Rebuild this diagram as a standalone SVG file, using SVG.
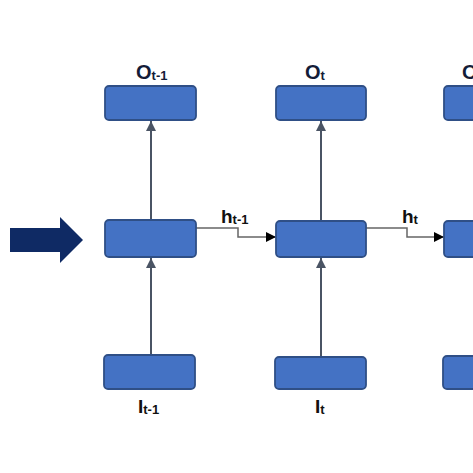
<svg xmlns="http://www.w3.org/2000/svg" width="473" height="473" viewBox="0 0 473 473">
<defs>
<style>
.box{fill:#4472c4;stroke:#2f4f86;stroke-width:1.8}
.v{stroke:#4a5464;stroke-width:2;fill:none}
.h{stroke:#666;stroke-width:1.5;fill:none}
.lbl{font-family:"Liberation Sans",Arial,sans-serif;font-weight:bold;font-size:20px;fill:#141c38}
.hl{font-family:"Liberation Sans",Arial,sans-serif;font-weight:bold;font-size:19px;fill:#111}
.sub{font-size:13px}
</style>
<marker id="up" viewBox="0 0 10 10" refX="10" refY="5" markerWidth="10" markerHeight="10" markerUnits="userSpaceOnUse" orient="auto"><path d="M0,0 L10,5 L0,10 z" fill="#4a5464"/></marker>
<marker id="blk" viewBox="0 0 10 10" refX="10" refY="5" markerWidth="10" markerHeight="10" markerUnits="userSpaceOnUse" orient="auto"><path d="M0,0 L10,5 L0,10 z" fill="#000"/></marker>
</defs>
<rect width="473" height="473" fill="#fff"/>
<polygon id="input-arrow" points="10,228 60,228 60,217 83,240 60,263 60,252 10,252" fill="#0f2a64"/>
<g id="connectors">
<line class="v" x1="151" y1="220" x2="151" y2="121" marker-end="url(#up)"/>
<line class="v" x1="151" y1="355" x2="151" y2="258" marker-end="url(#up)"/>
<line class="v" x1="321" y1="221" x2="321" y2="121" marker-end="url(#up)"/>
<line class="v" x1="321" y1="357" x2="321" y2="258" marker-end="url(#up)"/>
<path class="h" d="M196,228 H238 V237 H276" marker-end="url(#blk)"/>
<path class="h" d="M366,228 H407 V237 H444" marker-end="url(#blk)"/>
</g>
<g id="o1"><rect class="box" x="105" y="86" width="91" height="34" rx="4"/></g>
<g id="o2"><rect class="box" x="276" y="86" width="90" height="34" rx="4"/></g>
<g id="o3"><rect class="box" x="444" y="86" width="60" height="34" rx="4"/></g>
<g id="h1"><rect class="box" x="105" y="220" width="91" height="37" rx="4"/></g>
<g id="h2"><rect class="box" x="276" y="221" width="90" height="36" rx="4"/></g>
<g id="h3"><rect class="box" x="444" y="221" width="60" height="36" rx="4"/></g>
<g id="i1"><rect class="box" x="104" y="355" width="91" height="34" rx="4"/></g>
<g id="i2"><rect class="box" x="275" y="357" width="91" height="32" rx="4"/></g>
<g id="i3"><rect class="box" x="443" y="356" width="60" height="33" rx="4"/></g>
<g id="labels">
<text class="lbl" x="136" y="79">O<tspan class="sub" dy="1">t-1</tspan></text>
<text class="lbl" x="305" y="79">O<tspan class="sub" dy="1">t</tspan></text>
<text class="lbl" x="462" y="79">O</text>
<text class="hl" x="221" y="223">h<tspan class="sub" dy="1">t-1</tspan></text>
<text class="hl" x="402" y="223">h<tspan class="sub" dy="1">t</tspan></text>
<text class="hl" x="138" y="413">I<tspan class="sub" dy="1">t-1</tspan></text>
<text class="hl" x="315" y="413">I<tspan class="sub" dy="1">t</tspan></text>
</g>
</svg>
